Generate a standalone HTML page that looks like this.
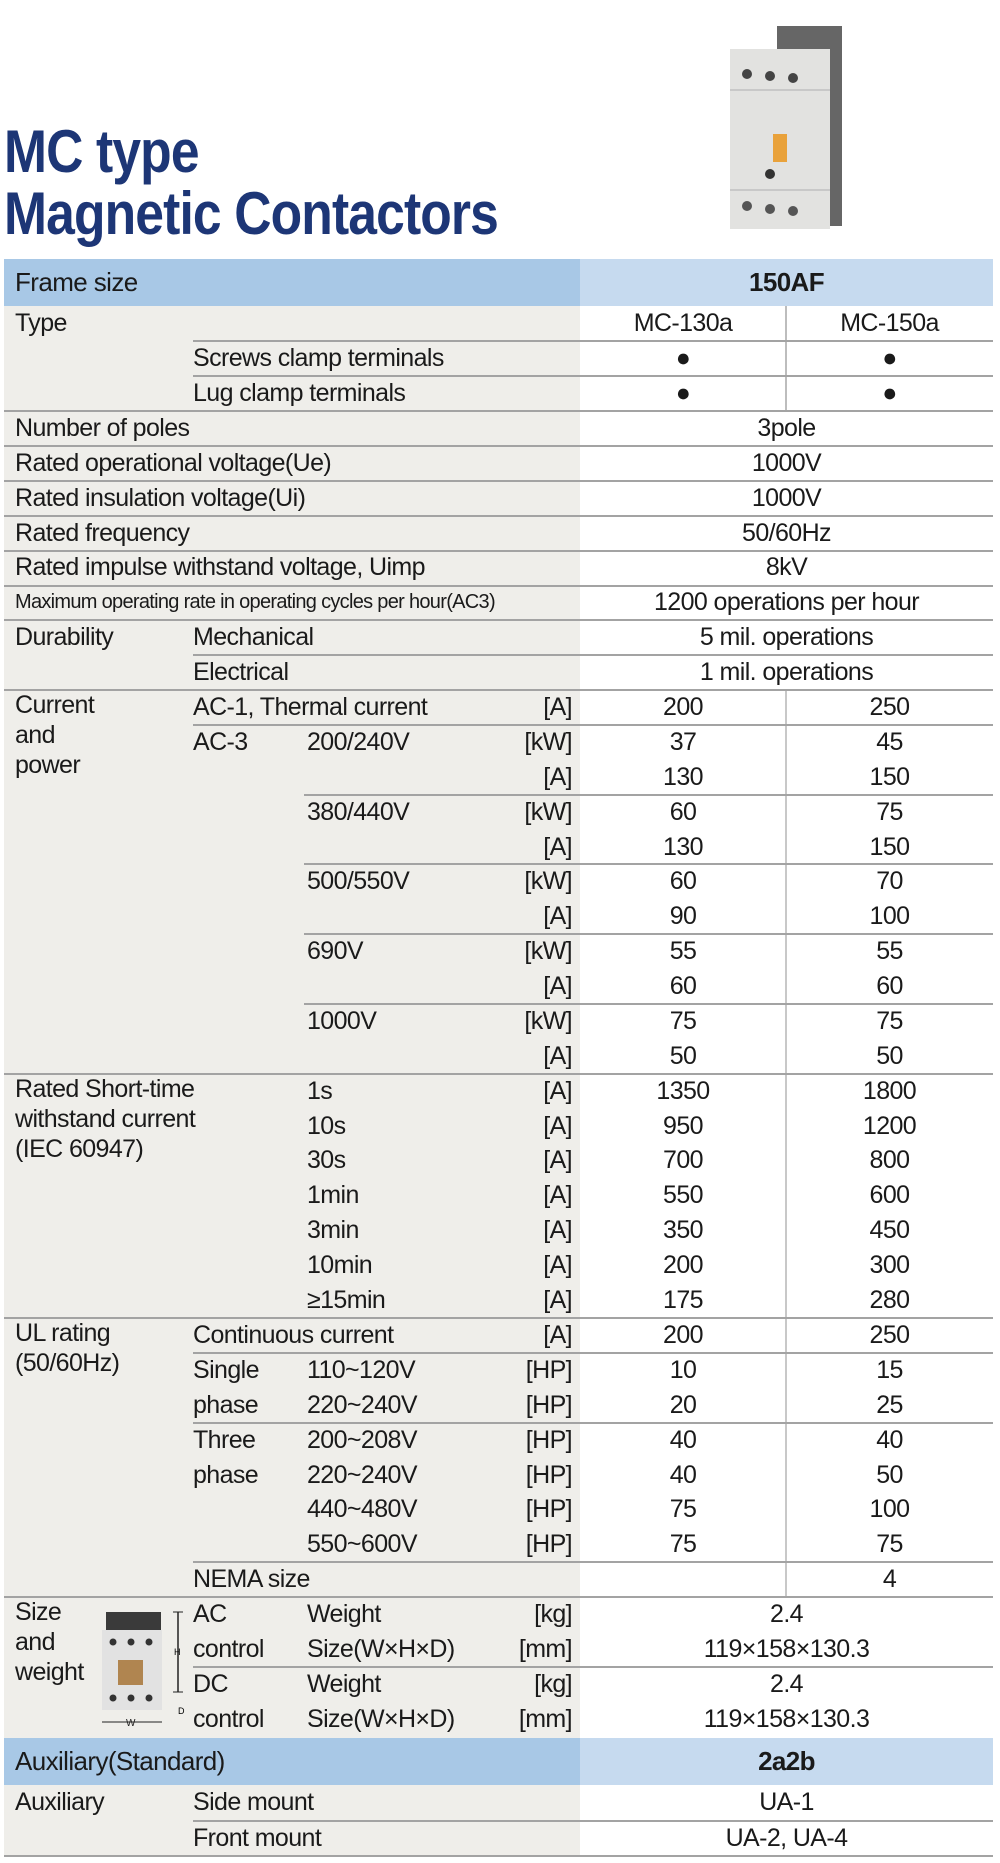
<!DOCTYPE html>
<html><head><meta charset="utf-8">
<style>
*{margin:0;padding:0;box-sizing:border-box}
body{width:1000px;height:1863px;background:#fff;position:relative;overflow:hidden;font-family:"Liberation Sans",sans-serif;color:#1a1a1a}
.t{position:absolute;font-size:25px;line-height:35px;white-space:nowrap;letter-spacing:-0.6px}
.title{position:absolute;left:4px;font-weight:bold;color:#1d3676;font-size:60px;line-height:60px;transform:scaleX(0.86);transform-origin:left;letter-spacing:-1px;white-space:nowrap}
.hl{position:absolute;height:2px;background:#a3a3a3}
.vl{position:absolute;width:2px;background:#bdbdbd;left:785px}
.c{text-align:center}
.u{text-align:right;width:120px}
</style></head><body>
<div class="title" style="top:122px">MC type</div>
<div class="title" style="top:184px">Magnetic Contactors</div>
<svg style="position:absolute;left:725px;top:24px" width="130" height="210" viewBox="0 0 130 210">
<rect x="52" y="2" width="65" height="200" fill="#666"/>
<rect x="5" y="25" width="100" height="180" fill="#e2e2e0"/>
<rect x="5" y="65" width="100" height="2" fill="#c8c8c8"/>
<rect x="5" y="165" width="100" height="2" fill="#c8c8c8"/>
<circle cx="22" cy="50" r="5" fill="#444"/><circle cx="45" cy="52" r="5" fill="#444"/><circle cx="68" cy="54" r="5" fill="#444"/>
<rect x="48" y="110" width="14" height="28" fill="#e9a23b"/>
<circle cx="45" cy="150" r="5" fill="#333"/>
<circle cx="22" cy="182" r="5" fill="#555"/><circle cx="45" cy="185" r="5" fill="#555"/><circle cx="68" cy="187" r="5" fill="#555"/>
</svg>
<div style="position:absolute;left:4px;top:259px;width:576px;height:47px;background:#a8c8e6"></div>
<div style="position:absolute;left:580px;top:259px;width:413px;height:47px;background:#c6daef"></div>
<div style="position:absolute;left:4px;top:306px;width:576px;height:1432px;background:#efeeea"></div>
<div style="position:absolute;left:4px;top:1738px;width:576px;height:47px;background:#a8c8e6"></div>
<div style="position:absolute;left:580px;top:1738px;width:413px;height:47px;background:#c6daef"></div>
<div style="position:absolute;left:4px;top:1785px;width:576px;height:70px;background:#efeeea"></div>
<div class="t" style="left:15px;top:265px;font-size:26px">Frame size</div>
<div class="t c" style="left:580px;width:413px;top:265px;font-size:26px;font-weight:bold">150AF</div>
<div class="t" style="left:15px;top:1744px;font-size:26px">Auxiliary(Standard)</div>
<div class="t c" style="left:580px;width:413px;top:1744px;font-size:26px;font-weight:bold">2a2b</div>
<div class="vl" style="top:306px;height:105px"></div>
<div class="vl" style="top:689px;height:908px;background:#c8c8c8"></div>
<div class="hl" style="left:193px;width:800px;top:340px"></div>
<div class="hl" style="left:193px;width:800px;top:375px"></div>
<div class="hl" style="left:4px;width:989px;top:410px"></div>
<div class="hl" style="left:4px;width:989px;top:445px"></div>
<div class="hl" style="left:4px;width:989px;top:480px"></div>
<div class="hl" style="left:4px;width:989px;top:515px"></div>
<div class="hl" style="left:4px;width:989px;top:550px"></div>
<div class="hl" style="left:4px;width:989px;top:585px"></div>
<div class="hl" style="left:4px;width:989px;top:619px"></div>
<div class="hl" style="left:193px;width:800px;top:654px"></div>
<div class="hl" style="left:4px;width:989px;top:689px"></div>
<div class="hl" style="left:193px;width:800px;top:724px"></div>
<div class="hl" style="left:304px;width:689px;top:794px"></div>
<div class="hl" style="left:304px;width:689px;top:863px"></div>
<div class="hl" style="left:304px;width:689px;top:933px"></div>
<div class="hl" style="left:304px;width:689px;top:1003px"></div>
<div class="hl" style="left:4px;width:989px;top:1073px"></div>
<div class="hl" style="left:4px;width:989px;top:1317px"></div>
<div class="hl" style="left:193px;width:800px;top:1352px"></div>
<div class="hl" style="left:193px;width:800px;top:1422px"></div>
<div class="hl" style="left:193px;width:800px;top:1561px"></div>
<div class="hl" style="left:4px;width:989px;top:1596px"></div>
<div class="hl" style="left:193px;width:800px;top:1666px"></div>
<div class="hl" style="left:193px;width:800px;top:1820px"></div>
<div class="hl" style="left:4px;width:989px;top:1855px"></div>

<div class="t" style="left:15px;top:306px">Type</div>
<div class="t c" style="left:580px;width:206px;top:306px">MC-130a</div>
<div class="t c" style="left:786px;width:207px;top:306px">MC-150a</div>
<div class="t" style="left:193px;top:341px">Screws clamp terminals</div>
<div class="t c" style="left:580px;width:206px;top:341px">●</div>
<div class="t c" style="left:786px;width:207px;top:341px">●</div>
<div class="t" style="left:193px;top:376px">Lug clamp terminals</div>
<div class="t c" style="left:580px;width:206px;top:376px">●</div>
<div class="t c" style="left:786px;width:207px;top:376px">●</div>
<div class="t" style="left:15px;top:411px">Number of poles</div>
<div class="t c" style="left:580px;width:413px;top:411px">3pole</div>
<div class="t" style="left:15px;top:446px">Rated operational voltage(Ue)</div>
<div class="t c" style="left:580px;width:413px;top:446px">1000V</div>
<div class="t" style="left:15px;top:481px">Rated insulation voltage(Ui)</div>
<div class="t c" style="left:580px;width:413px;top:481px">1000V</div>
<div class="t" style="left:15px;top:516px">Rated frequency</div>
<div class="t c" style="left:580px;width:413px;top:516px">50/60Hz</div>
<div class="t" style="left:15px;top:550px">Rated impulse withstand voltage, Uimp</div>
<div class="t c" style="left:580px;width:413px;top:550px">8kV</div>
<div class="t" style="left:15px;top:585px;font-size:20px;letter-spacing:-0.7px">Maximum operating rate in operating cycles per hour(AC3)</div>
<div class="t c" style="left:580px;width:413px;top:585px">1200 operations per hour</div>
<div class="t" style="left:15px;top:620px">Durability</div>
<div class="t" style="left:193px;top:620px">Mechanical</div>
<div class="t c" style="left:580px;width:413px;top:620px">5 mil. operations</div>
<div class="t" style="left:193px;top:655px">Electrical</div>
<div class="t c" style="left:580px;width:413px;top:655px">1 mil. operations</div>

<div class="t" style="left:15px;top:690px;line-height:30px">Current<br>and<br>power</div>
<div class="t" style="left:193px;top:690px">AC-1, Thermal current</div>
<div class="t u" style="left:452px;top:690px">[A]</div>
<div class="t c" style="left:580px;width:206px;top:690px">200</div>
<div class="t c" style="left:786px;width:207px;top:690px">250</div>
<div class="t" style="left:193px;top:725px">AC-3</div>

<div class="t" style="left:307px;top:725px">200/240V</div>
<div class="t u" style="left:452px;top:725px">[kW]</div>
<div class="t c" style="left:580px;width:206px;top:725px">37</div>
<div class="t c" style="left:786px;width:207px;top:725px">45</div>
<div class="t u" style="left:452px;top:760px">[A]</div>
<div class="t c" style="left:580px;width:206px;top:760px">130</div>
<div class="t c" style="left:786px;width:207px;top:760px">150</div>

<div class="t" style="left:307px;top:795px">380/440V</div>
<div class="t u" style="left:452px;top:795px">[kW]</div>
<div class="t c" style="left:580px;width:206px;top:795px">60</div>
<div class="t c" style="left:786px;width:207px;top:795px">75</div>
<div class="t u" style="left:452px;top:830px">[A]</div>
<div class="t c" style="left:580px;width:206px;top:830px">130</div>
<div class="t c" style="left:786px;width:207px;top:830px">150</div>

<div class="t" style="left:307px;top:864px">500/550V</div>
<div class="t u" style="left:452px;top:864px">[kW]</div>
<div class="t c" style="left:580px;width:206px;top:864px">60</div>
<div class="t c" style="left:786px;width:207px;top:864px">70</div>
<div class="t u" style="left:452px;top:899px">[A]</div>
<div class="t c" style="left:580px;width:206px;top:899px">90</div>
<div class="t c" style="left:786px;width:207px;top:899px">100</div>

<div class="t" style="left:307px;top:934px">690V</div>
<div class="t u" style="left:452px;top:934px">[kW]</div>
<div class="t c" style="left:580px;width:206px;top:934px">55</div>
<div class="t c" style="left:786px;width:207px;top:934px">55</div>
<div class="t u" style="left:452px;top:969px">[A]</div>
<div class="t c" style="left:580px;width:206px;top:969px">60</div>
<div class="t c" style="left:786px;width:207px;top:969px">60</div>

<div class="t" style="left:307px;top:1004px">1000V</div>
<div class="t u" style="left:452px;top:1004px">[kW]</div>
<div class="t c" style="left:580px;width:206px;top:1004px">75</div>
<div class="t c" style="left:786px;width:207px;top:1004px">75</div>
<div class="t u" style="left:452px;top:1039px">[A]</div>
<div class="t c" style="left:580px;width:206px;top:1039px">50</div>
<div class="t c" style="left:786px;width:207px;top:1039px">50</div>

<div class="t" style="left:15px;top:1074px;line-height:30px">Rated Short-time<br>withstand current<br>(IEC 60947)</div>
<div class="t" style="left:307px;top:1074px">1s</div>
<div class="t u" style="left:452px;top:1074px">[A]</div>
<div class="t c" style="left:580px;width:206px;top:1074px">1350</div>
<div class="t c" style="left:786px;width:207px;top:1074px">1800</div>
<div class="t" style="left:307px;top:1109px">10s</div>
<div class="t u" style="left:452px;top:1109px">[A]</div>
<div class="t c" style="left:580px;width:206px;top:1109px">950</div>
<div class="t c" style="left:786px;width:207px;top:1109px">1200</div>
<div class="t" style="left:307px;top:1143px">30s</div>
<div class="t u" style="left:452px;top:1143px">[A]</div>
<div class="t c" style="left:580px;width:206px;top:1143px">700</div>
<div class="t c" style="left:786px;width:207px;top:1143px">800</div>
<div class="t" style="left:307px;top:1178px">1min</div>
<div class="t u" style="left:452px;top:1178px">[A]</div>
<div class="t c" style="left:580px;width:206px;top:1178px">550</div>
<div class="t c" style="left:786px;width:207px;top:1178px">600</div>
<div class="t" style="left:307px;top:1213px">3min</div>
<div class="t u" style="left:452px;top:1213px">[A]</div>
<div class="t c" style="left:580px;width:206px;top:1213px">350</div>
<div class="t c" style="left:786px;width:207px;top:1213px">450</div>
<div class="t" style="left:307px;top:1248px">10min</div>
<div class="t u" style="left:452px;top:1248px">[A]</div>
<div class="t c" style="left:580px;width:206px;top:1248px">200</div>
<div class="t c" style="left:786px;width:207px;top:1248px">300</div>
<div class="t" style="left:307px;top:1283px">≥15min</div>
<div class="t u" style="left:452px;top:1283px">[A]</div>
<div class="t c" style="left:580px;width:206px;top:1283px">175</div>
<div class="t c" style="left:786px;width:207px;top:1283px">280</div>

<div class="t" style="left:15px;top:1318px;line-height:30px">UL rating<br>(50/60Hz)</div>
<div class="t" style="left:193px;top:1318px">Continuous current</div>
<div class="t u" style="left:452px;top:1318px">[A]</div>
<div class="t c" style="left:580px;width:206px;top:1318px">200</div>
<div class="t c" style="left:786px;width:207px;top:1318px">250</div>
<div class="t" style="left:193px;top:1353px">Single</div>
<div class="t" style="left:193px;top:1388px">phase</div>
<div class="t" style="left:307px;top:1353px">110~120V</div>
<div class="t u" style="left:452px;top:1353px">[HP]</div>
<div class="t c" style="left:580px;width:206px;top:1353px">10</div>
<div class="t c" style="left:786px;width:207px;top:1353px">15</div>
<div class="t" style="left:307px;top:1388px">220~240V</div>
<div class="t u" style="left:452px;top:1388px">[HP]</div>
<div class="t c" style="left:580px;width:206px;top:1388px">20</div>
<div class="t c" style="left:786px;width:207px;top:1388px">25</div>
<div class="t" style="left:193px;top:1423px">Three</div>
<div class="t" style="left:193px;top:1458px">phase</div>
<div class="t" style="left:307px;top:1423px">200~208V</div>
<div class="t u" style="left:452px;top:1423px">[HP]</div>
<div class="t c" style="left:580px;width:206px;top:1423px">40</div>
<div class="t c" style="left:786px;width:207px;top:1423px">40</div>
<div class="t" style="left:307px;top:1458px">220~240V</div>
<div class="t u" style="left:452px;top:1458px">[HP]</div>
<div class="t c" style="left:580px;width:206px;top:1458px">40</div>
<div class="t c" style="left:786px;width:207px;top:1458px">50</div>
<div class="t" style="left:307px;top:1492px">440~480V</div>
<div class="t u" style="left:452px;top:1492px">[HP]</div>
<div class="t c" style="left:580px;width:206px;top:1492px">75</div>
<div class="t c" style="left:786px;width:207px;top:1492px">100</div>
<div class="t" style="left:307px;top:1527px">550~600V</div>
<div class="t u" style="left:452px;top:1527px">[HP]</div>
<div class="t c" style="left:580px;width:206px;top:1527px">75</div>
<div class="t c" style="left:786px;width:207px;top:1527px">75</div>
<div class="t" style="left:193px;top:1562px">NEMA size</div>
<div class="t c" style="left:786px;width:207px;top:1562px">4</div>

<div class="t" style="left:15px;top:1597px;line-height:30px">Size<br>and<br>weight</div>
<svg style="position:absolute;left:98px;top:1610px" width="90" height="120" viewBox="0 0 90 120">
<rect x="8" y="2" width="55" height="30" fill="#3a3a3a"/>
<rect x="4" y="20" width="60" height="80" fill="#e2e2e2"/>
<circle cx="15" cy="32" r="3.5" fill="#333"/><circle cx="33" cy="32" r="3.5" fill="#333"/><circle cx="51" cy="32" r="3.5" fill="#333"/>
<rect x="20" y="50" width="25" height="25" fill="#b08550"/>
<circle cx="15" cy="88" r="3.5" fill="#333"/><circle cx="33" cy="88" r="3.5" fill="#333"/><circle cx="51" cy="88" r="3.5" fill="#333"/>
<line x1="80" y1="2" x2="80" y2="82" stroke="#222" stroke-width="1.5"/>
<line x1="75" y1="2" x2="85" y2="2" stroke="#222"/><line x1="75" y1="82" x2="85" y2="82" stroke="#222"/>
<text x="76" y="45" font-size="9" font-family="Liberation Sans">H</text>
<line x1="4" y1="112" x2="64" y2="112" stroke="#222"/>
<text x="28" y="116" font-size="10" font-family="Liberation Sans" fill="#222">W</text>
<text x="80" y="104" font-size="9" font-family="Liberation Sans">D</text>
</svg>
<div class="t" style="left:193px;top:1597px">AC</div>
<div class="t" style="left:193px;top:1632px">control</div>
<div class="t" style="left:307px;top:1597px">Weight</div>
<div class="t u" style="left:452px;top:1597px">[kg]</div>
<div class="t c" style="left:580px;width:413px;top:1597px">2.4</div>
<div class="t" style="left:307px;top:1632px">Size(W×H×D)</div>
<div class="t u" style="left:452px;top:1632px">[mm]</div>
<div class="t c" style="left:580px;width:413px;top:1632px">119×158×130.3</div>
<div class="t" style="left:193px;top:1667px">DC</div>
<div class="t" style="left:193px;top:1702px">control</div>
<div class="t" style="left:307px;top:1667px">Weight</div>
<div class="t u" style="left:452px;top:1667px">[kg]</div>
<div class="t c" style="left:580px;width:413px;top:1667px">2.4</div>
<div class="t" style="left:307px;top:1702px">Size(W×H×D)</div>
<div class="t u" style="left:452px;top:1702px">[mm]</div>
<div class="t c" style="left:580px;width:413px;top:1702px">119×158×130.3</div>

<div class="t" style="left:15px;top:1785px">Auxiliary</div>
<div class="t" style="left:193px;top:1785px">Side mount</div>
<div class="t c" style="left:580px;width:413px;top:1785px">UA-1</div>
<div class="t" style="left:193px;top:1821px">Front mount</div>
<div class="t c" style="left:580px;width:413px;top:1821px">UA-2, UA-4</div>
</body></html>
